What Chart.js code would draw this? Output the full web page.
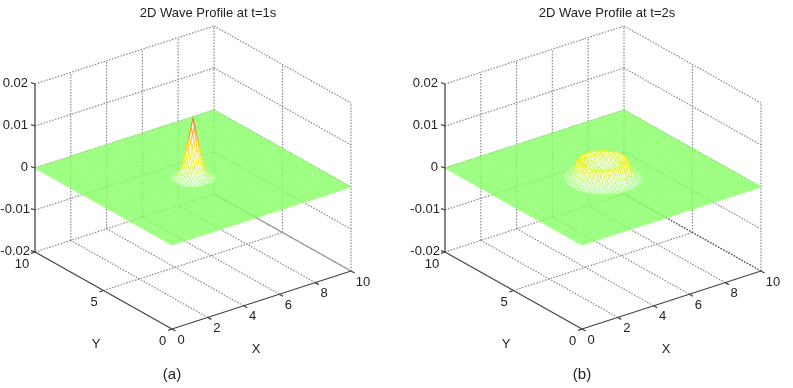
<!DOCTYPE html>
<html>
<head>
<meta charset="utf-8">
<script src="https://cdn.jsdelivr.net/npm/chart.js@4/dist/chart.umd.min.js"></script>
<style>
  html, body { margin: 0; padding: 0; background: #fff; overflow: hidden; }
  #page { position: relative; width: 793px; height: 388px; overflow: hidden; }
  .panel { position: absolute; top: 0; width: 416px; height: 388px; }
</style>
</head>
<body>
<div id="page">
  <div class="panel" style="left:0"><canvas id="waveA"></canvas></div>
  <div class="panel" style="left:399px"><canvas id="waveB"></canvas></div>
</div>
<script>
/**
 * Data
 */
const xTicks = [0, 2, 4, 6, 8, 10];
const yTicks = [0, 5, 10];
const zTicks = [-0.02, -0.01, 0, 0.01, 0.02];
const meshStep = 0.1;
const meshCells = 100;

// Height above the plane in units of 0.001, one quadrant around (5, 5),
// rows and columns are mesh steps away from the centre
const heightsA = [
  [14, 12, 9.5, 7, 4.2, 2.8, 1.5, 0.7, 0.2],
  [12, 10.5, 9, 6.5, 4, 2.7, 1.4, 0.6, 0.2],
  [9.5, 9, 7.5, 5.3, 3.5, 2.3, 1.3, 0.6, 0.15],
  [7, 6.5, 5.3, 4, 2.8, 1.7, 0.9, 0.4, 0.1],
  [4.2, 4, 3.5, 2.8, 1.8, 1.2, 0.6, 0.2, 0.02],
  [2.8, 2.7, 2.3, 1.7, 1.2, 0.6, 0.3, 0.1, 0],
  [1.5, 1.4, 1.3, 0.9, 0.6, 0.3, 0.1, 0, 0],
  [0.7, 0.6, 0.6, 0.4, 0.2, 0.1, 0, 0, 0],
  [0.2, 0.2, 0.15, 0.1, 0.02, 0, 0, 0, 0],
];
const heightsB = [
  [1, 1, 1, 1, 1.1, 1.2, 1.4, 1.8, 2.5, 3.4, 4, 3.8, 2.9, 1.6, 0.8, 0.3, 0.1, 0],
  [1, 1, 1, 1, 1.1, 1.2, 1.4, 1.8, 2.5, 3.4, 4, 3.8, 2.9, 1.6, 0.8, 0.3, 0.1, 0],
  [1, 1, 1, 1.1, 1.1, 1.2, 1.4, 1.8, 2.5, 3.4, 4, 3.8, 2.9, 1.6, 0.8, 0.3, 0.1, 0],
  [1, 1, 1.1, 1.1, 1.2, 1.4, 1.8, 2.5, 3.4, 3.4, 4, 3.8, 2.9, 1.6, 0.8, 0.3, 0.1, 0],
  [1.1, 1.1, 1.1, 1.2, 1.4, 1.4, 1.8, 2.5, 3.4, 4, 3.8, 2.9, 1.6, 0.8, 0.3, 0.1, 0.1, 0],
  [1.2, 1.2, 1.2, 1.4, 1.4, 1.8, 2.5, 3.4, 3.4, 4, 3.8, 2.9, 1.6, 0.8, 0.3, 0.1, 0, 0],
  [1.4, 1.4, 1.4, 1.8, 1.8, 2.5, 2.5, 3.4, 4, 3.8, 2.9, 1.6, 1.6, 0.8, 0.3, 0.1, 0, 0],
  [1.8, 1.8, 1.8, 2.5, 2.5, 3.4, 3.4, 4, 3.8, 3.8, 2.9, 1.6, 0.8, 0.3, 0.1, 0, 0, 0],
  [2.5, 2.5, 2.5, 3.4, 3.4, 3.4, 4, 3.8, 3.8, 2.9, 1.6, 0.8, 0.8, 0.3, 0.1, 0, 0, 0],
  [3.4, 3.4, 3.4, 3.4, 4, 4, 3.8, 3.8, 2.9, 1.6, 1.6, 0.8, 0.3, 0.1, 0, 0, 0, 0],
  [4, 4, 4, 4, 3.8, 3.8, 2.9, 2.9, 1.6, 1.6, 0.8, 0.3, 0.1, 0.1, 0, 0, 0, 0],
  [3.8, 3.8, 3.8, 3.8, 2.9, 2.9, 1.6, 1.6, 0.8, 0.8, 0.3, 0.1, 0.1, 0, 0, 0, 0, 0],
  [2.9, 2.9, 2.9, 2.9, 1.6, 1.6, 1.6, 0.8, 0.8, 0.3, 0.1, 0.1, 0, 0, 0, 0, 0, 0],
  [1.6, 1.6, 1.6, 1.6, 0.8, 0.8, 0.8, 0.3, 0.3, 0.1, 0.1, 0, 0, 0, 0, 0, 0, 0],
  [0.8, 0.8, 0.8, 0.8, 0.3, 0.3, 0.3, 0.1, 0.1, 0, 0, 0, 0, 0, 0, 0, 0, 0],
  [0.3, 0.3, 0.3, 0.3, 0.1, 0.1, 0.1, 0, 0, 0, 0, 0, 0, 0, 0, 0, 0, 0],
  [0.1, 0.1, 0.1, 0.1, 0.1, 0, 0, 0, 0, 0, 0, 0, 0, 0, 0, 0, 0, 0],
  [0, 0, 0, 0, 0, 0, 0, 0, 0, 0, 0, 0, 0, 0, 0, 0, 0, 0],
];

/**
 * View of the box
 */
const FONT = '"Liberation Sans", Arial, sans-serif';
const PLANE_GREEN = '#88ff66';
const GRID_GRAY = '#888888';
const AXIS_DARK = '#444444';

function project(x, y, z) {
  return {
    x: 172 + 17.9 * x - 13.7 * y,
    y: 329 - 5.8 * x - 7.7 * y - 4200 * (z + 0.02),
  };
}

function line(points, color, width, dash) {
  return {
    data: points,
    showLine: true,
    fill: false,
    pointRadius: 0,
    borderColor: color,
    borderWidth: width,
    borderDash: dash || [],
    tension: 0,
  };
}

// Colour of a mesh cell from its mean height
const colorStops = [
  [0, [143, 255, 112]],
  [0.004, [240, 240, 0]],
  [0.007, [255, 215, 0]],
  [0.011, [255, 140, 0]],
  [0.014, [230, 50, 20]],
];
function meshColor(z) {
  for (let i = 1; i < colorStops.length; i++) {
    const [z0, c0] = colorStops[i - 1];
    const [z1, c1] = colorStops[i];
    if (z <= z1) {
      const t = Math.max(0, (z - z0) / (z1 - z0));
      return `rgb(${c0.map((c, k) => Math.round(c + (c1[k] - c) * t)).join(',')})`;
    }
  }
  return 'rgb(230,50,20)';
}

/**
 * Walls, floor and axes of the box
 */
function boxDatasets(floorEdge) {
  const dotted = [1.5, 1.5];
  const sets = [];
  const wall = (a, b) => sets.push(line([a, b], GRID_GRAY, 1.2, dotted));
  zTicks.forEach((z) => {
    wall(project(0, 10, z), project(10, 10, z));
    wall(project(10, 10, z), project(10, 0, z));
  });
  xTicks.slice(1).forEach((x) => {
    wall(project(x, 10, -0.02), project(x, 10, 0.02));
    if (x < 10) wall(project(x, 0, -0.02), project(x, 10, -0.02));
  });
  yTicks.slice(0, 2).forEach((y) => {
    wall(project(10, y, -0.02), project(10, y, 0.02));
  });
  wall(project(0, 5, -0.02), project(10, 5, -0.02));
  sets.push(line([project(10, 0, -0.02), project(10, 10, -0.02)], floorEdge.color, 1.2, floorEdge.dash));
  return sets;
}

function axisDatasets() {
  const sets = [];
  const axis = (a, b) => sets.push(line([a, b], AXIS_DARK, 1.3));
  axis(project(0, 10, -0.02), project(0, 10, 0.02));
  axis(project(0, 10, -0.02), project(0, 0, -0.02));
  axis(project(0, 0, -0.02), project(10, 0, -0.02));
  // Tick marks
  zTicks.forEach((z) => {
    const p = project(0, 10, z);
    axis(p, { x: p.x - 4, y: p.y - 1.3 });
  });
  xTicks.forEach((x) => {
    const p = project(x, 0, -0.02);
    axis(p, { x: p.x + 3.6, y: p.y + 2 });
  });
  yTicks.forEach((y) => {
    const p = project(0, y, -0.02);
    axis(p, { x: p.x - 4, y: p.y + 1.3 });
  });
  return sets;
}

/**
 * The surface: flat mesh, then the raised cells from back to front
 */
function heightAt(table, i, j) {
  const row = table[Math.abs(j - meshCells / 2)];
  const value = row ? row[Math.abs(i - meshCells / 2)] : undefined;
  return value === undefined ? 0 : value / 1000;
}

function meshDatasets(table) {
  const sets = [];
  for (let a = 0; a <= meshCells; a++) {
    sets.push(line([project(0, a * meshStep, 0), project(10, a * meshStep, 0)], PLANE_GREEN, 0.8));
    sets.push(line([project(a * meshStep, 0, 0), project(a * meshStep, 10, 0)], PLANE_GREEN, 0.8));
  }
  const reach = table.length;
  const mid = meshCells / 2;
  for (let j = mid + reach - 1; j >= mid - reach; j--) {
    for (let i = mid + reach - 1; i >= mid - reach; i--) {
      const corners = [[i, j], [i + 1, j], [i + 1, j + 1], [i, j + 1]];
      const zs = corners.map(([a, b]) => heightAt(table, a, b));
      const mean = zs.reduce((s, z) => s + z, 0) / 4;
      if (mean === 0) continue;
      const pts = corners.map(([a, b], k) => project(a * meshStep, b * meshStep, zs[k]));
      pts.push(pts[0]);
      const cell = line(pts, meshColor(mean), mean > 0.0025 ? 0.6 : 0.4);
      cell.fill = 'shape';
      cell.backgroundColor = '#ffffff';
      sets.push(cell);
    }
  }
  return sets;
}

/**
 * Axis text, placed by the chart's scales
 */
const axisText = {
  id: 'axisText',
  afterDraw(chart, args, opts) {
    const { ctx, scales } = chart;
    const put = (text, px, py, size) => {
      ctx.font = `${size || 13}px ${FONT}`;
      ctx.fillStyle = '#222222';
      ctx.textAlign = 'center';
      ctx.textBaseline = 'middle';
      ctx.fillText(text, scales.x.getPixelForValue(px), scales.y.getPixelForValue(py));
    };
    ctx.save();
    zTicks.forEach((z) => {
      const p = project(0, 10, z);
      const text = z === 0 ? '0' : String(z);
      ctx.font = `13px ${FONT}`;
      put(text, p.x - (z < 0 ? 5 : 7) - ctx.measureText(text).width / 2, p.y - 1);
    });
    xTicks.forEach((x) => {
      const p = project(x, 0, -0.02);
      put(String(x), p.x + (x === 10 ? 12 : 9), p.y + 11);
    });
    yTicks.forEach((y) => {
      const p = project(0, y, -0.02);
      put(String(y), p.x - (y === 10 ? 13 : 9.5), p.y + 12);
    });
    put('X', 256, 349);
    put('Y', 96, 344);
    put(opts.caption, 172, 375, 15);
    ctx.restore();
  },
};

/**
 * Chart
 */
function createWaveChart({ selector, title, caption, table, floorEdge, xMin }) {
  const ctx = document.getElementById(selector).getContext('2d');
  const datasets = [
    ...boxDatasets(floorEdge),
    ...meshDatasets(table),
    ...axisDatasets(),
  ].reverse();
  return new Chart(ctx, {
    type: 'scatter',
    data: { datasets },
    plugins: [axisText],
    options: {
      responsive: true,
      maintainAspectRatio: false,
      animation: false,
      events: [],
      layout: { padding: 0 },
      scales: {
        x: { type: 'linear', display: false, min: xMin, max: xMin + 416 },
        y: { type: 'linear', display: false, min: 21.6, max: 388, reverse: true },
      },
      plugins: {
        legend: { display: false },
        tooltip: { enabled: false },
        axisText: { caption },
        title: {
          display: true,
          text: title,
          color: '#222222',
          font: { family: FONT, size: 13, weight: 'normal' },
          padding: { top: 6, bottom: 0 },
        },
      },
    },
  });
}

createWaveChart({
  selector: 'waveA',
  title: '2D Wave Profile at t=1s',
  caption: '(a)',
  table: heightsA,
  floorEdge: { color: '#999999', dash: [] },
  xMin: 0,
});
createWaveChart({
  selector: 'waveB',
  title: '2D Wave Profile at t=2s',
  caption: '(b)',
  table: heightsB,
  floorEdge: { color: '#555555', dash: [1.5, 1.5] },
  xMin: -11,
});
</script>
</body>
</html>
